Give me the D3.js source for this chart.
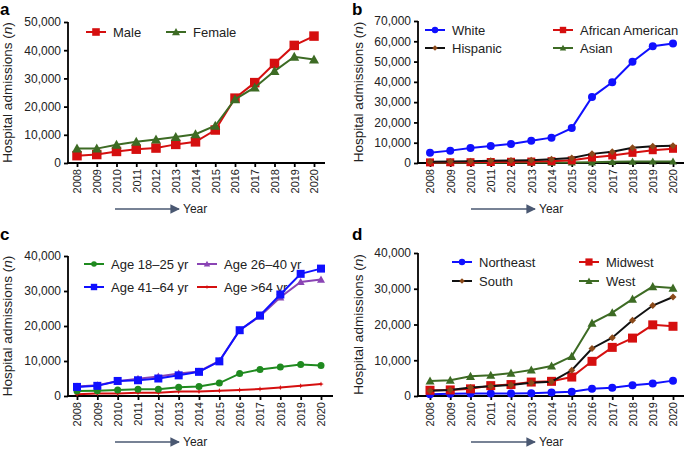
<!DOCTYPE html>
<html>
<head>
<meta charset="utf-8">
<script src="https://cdn.jsdelivr.net/npm/d3@7"></script>
<style>
  body { margin: 0; background: #fff; }
  svg { font-family: "Liberation Sans", Arial, sans-serif; }
  .axis path, .axis line { stroke: #000; stroke-width: 1.8; }
  .axis text { font-size: 11px; fill: #222; }
  .axis.y text { font-size: 12px; }
</style>
</head>
<body>
<div id="chart"></div>
<script>
// Data
var years = [2008, 2009, 2010, 2011, 2012, 2013, 2014, 2015, 2016, 2017, 2018, 2019, 2020];

// a: sex
var male   = [2600, 3000, 4100, 4900, 5300, 6600, 7500, 11700, 23000, 28500, 35300, 41700, 45000];
var female = [5100, 5100, 6500, 7500, 8300, 9200, 10200, 13200, 22600, 26800, 32600, 37700, 36700];

// b: race
var white    = [5100, 6100, 7400, 8400, 9400, 11000, 12500, 17200, 32500, 39800, 49900, 57600, 58900];
var hispanic = [600, 700, 900, 1100, 1200, 1400, 1800, 2500, 4500, 5500, 7500, 8200, 8500];
var afrAm    = [300, 350, 400, 500, 600, 700, 900, 1300, 2700, 3700, 5000, 6300, 7000];
var asian    = [100, 120, 150, 180, 200, 230, 260, 300, 400, 600, 700, 800, 800];

// c: age
var age1825 = [1400, 1500, 1700, 1900, 1900, 2500, 2700, 3700, 6400, 7600, 8300, 9000, 8700];
var age2640 = [2700, 3100, 4200, 4900, 5600, 6400, 7000, 10000, 18800, 22800, 28200, 32600, 33300];
var age4164 = [2600, 2900, 4300, 4500, 5000, 5900, 6900, 9900, 18800, 23000, 29000, 34900, 36400];
var age64   = [500, 700, 700, 900, 900, 1300, 1300, 1500, 1700, 2000, 2400, 2900, 3400];

// d: region
var northeast = [500, 600, 700, 700, 700, 800, 1000, 1200, 2000, 2300, 3000, 3500, 4300];
var midwest   = [1600, 1700, 2000, 2900, 3200, 3900, 4100, 5300, 9700, 13600, 16200, 19900, 19500];
var south     = [1500, 1700, 2400, 2700, 3100, 3700, 4000, 7200, 13300, 16300, 21200, 25300, 27700];
var west      = [4200, 4400, 5500, 5800, 6400, 7300, 8400, 11100, 20400, 23300, 27100, 30600, 30200];

var RED = "#d50f0f", GREEN = "#3d6b24", BLUE = "#1010ff",
    PURPLE = "#8a44b4", BROWN = "#8b4a1a";

var panels = [
  {
    letter: "a", ox: 0, oy: 0,
    left: 68, x0: 77, x1: 314, xEnd: 325, yTop: 22, yZero: 163, yMax: 50000, yTicks: 5,
    arrowX: 115,
    series: [
      { name: "Male", values: male, color: RED, line: RED, marker: "square", size: 9.5, lx: 86, ly: 32 },
      { name: "Female", values: female, color: GREEN, line: GREEN, marker: "triangle", size: 10, lx: 166, ly: 32 }
    ]
  },
  {
    letter: "b", ox: 342, oy: 0,
    left: 76, x0: 88, x1: 331, xEnd: 342, yTop: 21, yZero: 163, yMax: 70000, yTicks: 7,
    arrowX: 129,
    series: [
      { name: "Asian", values: asian, color: GREEN, line: GREEN, marker: "triangle", size: 8, lx: 211, ly: 48 },
      { name: "African American", values: afrAm, color: RED, line: RED, marker: "square", size: 8, lx: 211, ly: 30 },
      { name: "Hispanic", values: hispanic, color: BROWN, line: "#111", marker: "diamond", size: 7, lx: 83, ly: 48 },
      { name: "White", values: white, color: BLUE, line: BLUE, marker: "circle", size: 8, lx: 83, ly: 30 }
    ]
  },
  {
    letter: "c", ox: 0, oy: 225,
    left: 68, x0: 77, x1: 321, xEnd: 333, yTop: 31, yZero: 171, yMax: 40000, yTicks: 4,
    arrowX: 115,
    series: [
      { name: "Age >64 yr", values: age64, color: RED, line: RED, marker: "cross", size: 6, lx: 197, ly: 62 },
      { name: "Age 18–25 yr", values: age1825, color: "#1f8a1f", line: "#1f8a1f", marker: "circle", size: 7, lx: 84, ly: 39 },
      { name: "Age 26–40 yr", values: age2640, color: PURPLE, line: PURPLE, marker: "triangle", size: 8, lx: 197, ly: 39 },
      { name: "Age 41–64 yr", values: age4164, color: BLUE, line: BLUE, marker: "square", size: 8, lx: 84, ly: 62 }
    ]
  },
  {
    letter: "d", ox: 342, oy: 225,
    left: 76, x0: 88, x1: 331, xEnd: 342, yTop: 28, yZero: 171, yMax: 40000, yTicks: 4,
    arrowX: 129,
    series: [
      { name: "Northeast", values: northeast, color: BLUE, line: BLUE, marker: "circle", size: 8, lx: 110, ly: 37 },
      { name: "Midwest", values: midwest, color: RED, line: RED, marker: "square", size: 9, lx: 237, ly: 37 },
      { name: "South", values: south, color: BROWN, line: "#111", marker: "diamond", size: 7, lx: 110, ly: 56 },
      { name: "West", values: west, color: GREEN, line: GREEN, marker: "triangle", size: 9, lx: 237, ly: 56 }
    ]
  }
];

var svg = d3.select("#chart").append("svg")
    .attr("width", 685)
    .attr("height", 451);

var defs = svg.append("defs");
defs.append("marker")
    .attr("id", "arrow")
    .attr("viewBox", "0 0 10 10")
    .attr("refX", 9).attr("refY", 5)
    .attr("markerWidth", 6).attr("markerHeight", 6)
    .attr("orient", "auto")
  .append("path")
    .attr("d", "M0,0 L10,5 L0,10 z")
    .attr("fill", "#4a5872");

function markerPath(type, size) {
  var s = size / 2;
  if (type === "square") return "M" + -s + "," + -s + "h" + size + "v" + size + "h" + -size + "z";
  if (type === "triangle") return "M0," + (-s) + "L" + s + "," + (s * 0.8) + "L" + -s + "," + (s * 0.8) + "z";
  if (type === "diamond") return "M0," + -s + "L" + s + ",0L0," + s + "L" + -s + ",0z";
  if (type === "cross") return "M0," + (-s * 0.9) + "L" + (s * 0.35) + ",0L0," + (s * 0.9) + "L" + (-s * 0.35) + ",0z" +
    "M" + (-s * 0.9) + ",0L0," + (-s * 0.35) + "L" + (s * 0.9) + ",0L0," + (s * 0.35) + "z";
  return d3.symbol(d3.symbolCircle, Math.PI * s * s)();
}

panels.forEach(function(p) {
  var g = svg.append("g").attr("transform", "translate(" + p.ox + "," + p.oy + ")");

  var x = d3.scalePoint().domain(years).range([p.x0, p.x1]);
  var y = d3.scaleLinear().domain([0, p.yMax]).range([p.yZero, p.yTop]);

  // Panel letter
  g.append("text")
    .attr("x", p.ox ? 10 : 0).attr("y", 15)
    .attr("font-size", 17).attr("font-weight", "bold")
    .text(p.letter);

  // Y axis
  var yAxis = g.append("g")
    .attr("class", "axis y")
    .attr("transform", "translate(" + p.left + ",0)")
    .call(d3.axisLeft(y).ticks(p.yTicks).tickSize(4).tickFormat(d3.format(",")));
  yAxis.select(".domain").attr("d", "M0," + p.yTop + "V" + p.yZero);
  yAxis.selectAll("text").attr("x", -7);

  // X axis
  var xAxis = g.append("g")
    .attr("class", "axis")
    .attr("transform", "translate(0," + p.yZero + ")")
    .call(d3.axisBottom(x).tickSize(4));
  xAxis.select(".domain").attr("d", "M" + (p.left - 1) + ",0H" + p.xEnd);
  xAxis.selectAll("text")
    .attr("transform", "rotate(-90)")
    .attr("text-anchor", "end")
    .attr("x", -6).attr("y", 0).attr("dy", "0.35em");

  // Axis title
  g.append("text")
    .attr("transform", "translate(" + (p.ox ? 16 : 7) + "," + ((p.yTop + p.yZero) / 2) + ") rotate(-90)")
    .attr("text-anchor", "middle")
    .attr("dy", "0.35em")
    .attr("font-size", 13.5)
    .attr("fill", "#222")
    .html("Hospital admissions (<tspan font-style='italic'>n</tspan>)");

  // Year arrow
  var ay = p.yZero + 46;
  g.append("line")
    .attr("x1", p.arrowX).attr("x2", p.arrowX + 64)
    .attr("y1", ay).attr("y2", ay)
    .attr("stroke", "#4a5872").attr("stroke-width", 1.6)
    .attr("marker-end", "url(#arrow)");
  g.append("text")
    .attr("x", p.arrowX + 68).attr("y", ay)
    .attr("dy", "0.35em")
    .attr("font-size", 12).attr("fill", "#222")
    .text("Year");

  var line = d3.line()
    .x(function(d, i) { return x(years[i]); })
    .y(function(d) { return y(d); });

  p.series.forEach(function(s) {
    g.append("path")
      .datum(s.values)
      .attr("fill", "none")
      .attr("stroke", s.line)
      .attr("stroke-width", 2)
      .attr("d", line);

    g.append("g").selectAll("path")
      .data(s.values)
      .enter().append("path")
        .attr("transform", function(d, i) { return "translate(" + x(years[i]) + "," + y(d) + ")"; })
        .attr("d", markerPath(s.marker, s.size))
        .attr("fill", s.color);

    // Legend
    var lg = g.append("g").attr("transform", "translate(" + s.lx + "," + s.ly + ")");
    lg.append("line")
      .attr("x1", 0).attr("x2", 20)
      .attr("stroke", s.line).attr("stroke-width", 2);
    lg.append("path")
      .attr("transform", "translate(10,0)")
      .attr("d", markerPath(s.marker, s.size * 0.8))
      .attr("fill", s.color);
    lg.append("text")
      .attr("x", 27).attr("dy", "0.35em")
      .attr("font-size", 13).attr("fill", "#222")
      .text(s.name);
  });
});
</script>
</body>
</html>
